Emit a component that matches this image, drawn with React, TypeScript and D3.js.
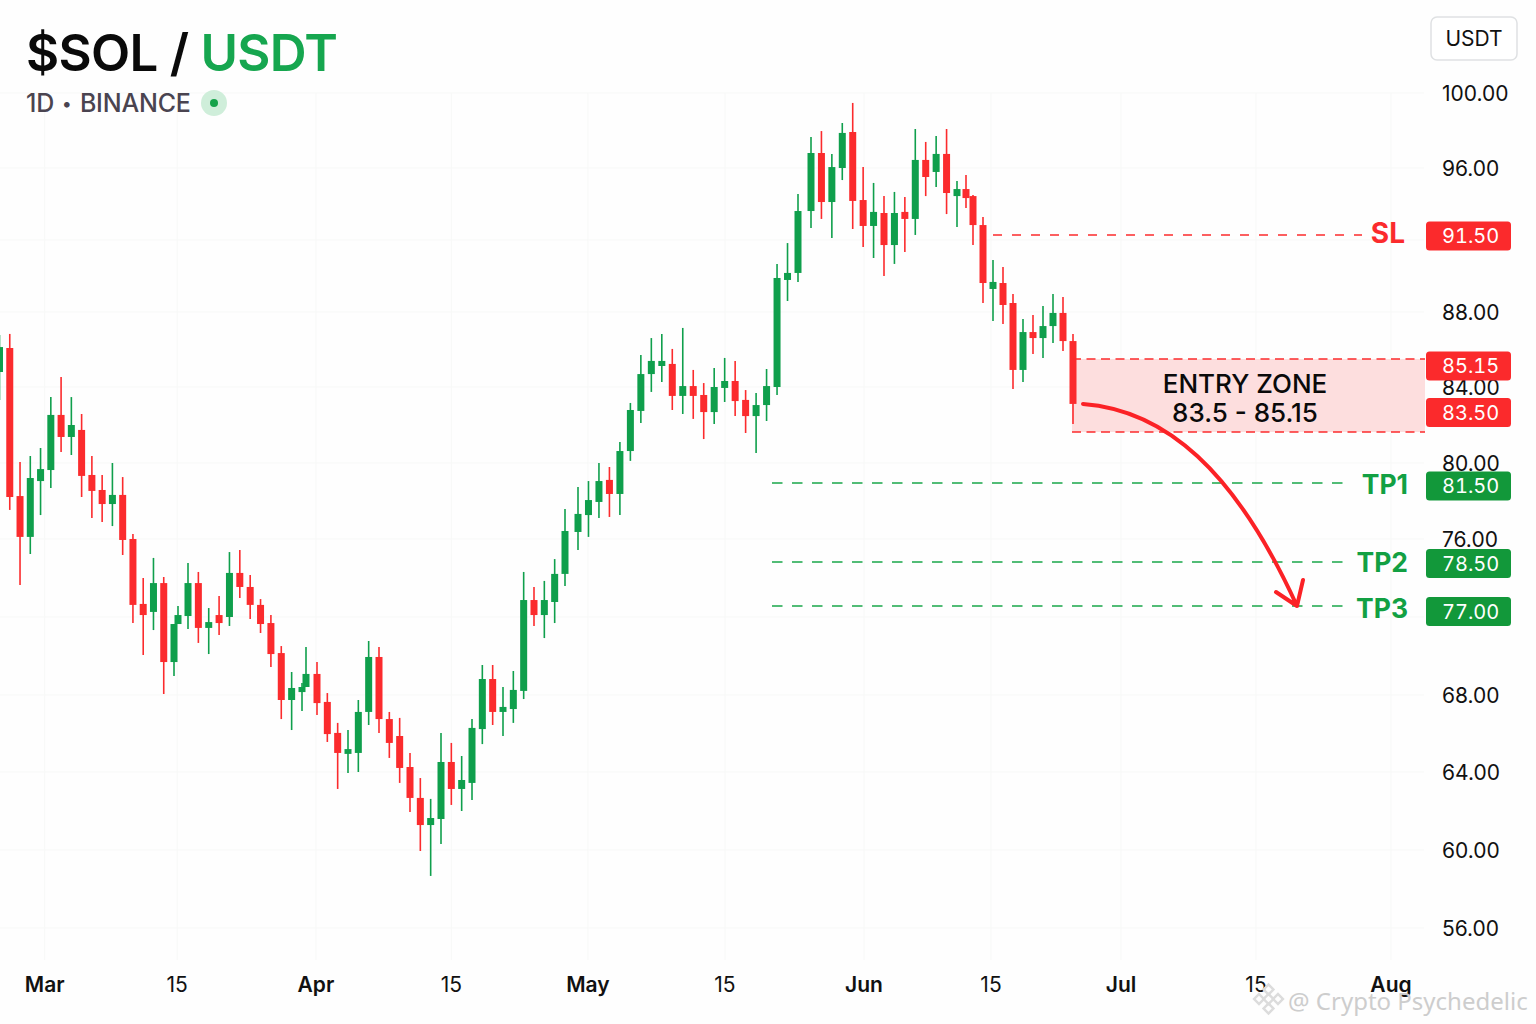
import * as d3 from "d3"

// candles (leftmost one is clipped by the frame)
const opens = [
  84.8, 86.08, 78.26, 76.11, 79.05, 79.63, 82.53, 81.37, 81.74, 79.37, 78.58, 77.84, 78.32, 76.0, 72.67, 72.26, 73.74, 69.69,
  71.64, 72.05, 73.74, 71.44, 72.1, 72.0, 74.26, 73.54, 72.62, 71.69, 70.15, 67.74, 68.15, 68.41, 69.08, 67.64, 66.03, 64.94,
  64.99, 67.12, 69.95, 66.75, 65.87, 64.26, 62.67, 61.28, 61.59, 64.52, 63.13, 63.44, 66.23, 68.82, 67.12, 67.27, 68.21, 72.87,
  72.1, 72.77, 74.21, 76.37, 77.26, 77.95, 79.11, 78.37, 80.63, 82.74, 84.69, 85.12, 85.23, 83.53, 84.05, 83.58, 82.68, 83.95,
  84.32, 83.32, 82.47, 83.05, 84.0, 89.78, 90.17, 93.61, 96.8, 94.11, 96.0, 97.92, 94.22, 92.78, 93.5, 91.72, 93.56, 93.17,
  96.43, 95.78, 96.75, 94.44, 94.83, 94.44, 92.83, 89.28, 89.61, 88.5, 84.91, 86.93, 86.61, 87.25, 87.95, 86.45,
]
const closes = [
  86.13, 78.21, 76.11, 79.21, 79.68, 82.53, 81.37, 82.0, 79.32, 78.53, 77.84, 78.32, 75.95, 72.62, 72.1, 73.74, 69.69, 71.64,
  72.1, 73.74, 71.44, 71.74, 71.69, 74.26, 73.54, 72.62, 71.64, 70.1, 67.74, 68.36, 68.41, 69.08, 67.58, 65.97, 64.99, 65.19,
  67.12, 69.95, 66.75, 65.51, 64.21, 62.67, 61.28, 61.64, 64.52, 63.13, 63.59, 66.29, 68.82, 67.12, 67.38, 68.26, 72.87, 72.1,
  72.87, 74.21, 76.42, 77.32, 78.05, 79.05, 78.37, 80.63, 82.79, 84.69, 85.39, 85.39, 83.53, 84.05, 83.53, 82.68, 84.0, 84.32,
  83.26, 82.47, 83.05, 84.05, 89.89, 90.17, 93.61, 96.8, 94.11, 96.05, 97.87, 94.17, 92.78, 93.56, 91.72, 93.5, 93.17, 96.43,
  95.5, 96.75, 94.61, 94.83, 94.33, 92.83, 89.61, 89.67, 88.39, 84.91, 86.93, 86.61, 87.25, 87.95, 86.45, 83.11,
]
const highs = [
  86.77, 86.83, 80.05, 80.37, 80.79, 83.47, 84.53, 83.47, 82.58, 80.37, 79.37, 80.0, 79.26, 76.26, 74.0, 75.03, 74.05, 71.64,
  72.56, 74.77, 74.31, 72.46, 73.08, 75.33, 75.44, 74.15, 72.92, 72.1, 70.51, 69.18, 68.62, 70.46, 69.69, 68.1, 66.55, 66.18,
  67.74, 70.77, 70.46, 67.12, 66.81, 64.99, 63.69, 62.62, 66.03, 65.51, 64.83, 66.75, 69.54, 69.54, 68.41, 69.23, 74.31, 73.54,
  73.85, 74.97, 77.58, 78.74, 79.05, 80.0, 79.79, 81.11, 83.16, 85.71, 86.61, 86.83, 86.03, 87.15, 84.91, 84.21, 85.01, 85.55,
  85.39, 83.84, 83.68, 84.96, 90.67, 91.83, 94.56, 97.65, 97.97, 96.75, 98.4, 99.47, 96.05, 95.17, 94.44, 94.67, 94.39, 98.08,
  97.39, 97.71, 98.08, 95.28, 95.61, 94.5, 93.28, 90.89, 90.5, 89.0, 87.63, 87.84, 88.33, 89.0, 88.83, 86.83,
]
const lows = [
  83.32, 77.53, 73.64, 75.23, 77.26, 78.68, 80.58, 80.42, 78.21, 77.11, 76.89, 76.68, 75.18, 71.69, 70.05, 71.33, 68.05, 68.97,
  71.64, 71.38, 70.67, 70.1, 71.08, 71.54, 72.97, 71.9, 71.18, 69.44, 66.75, 66.18, 67.17, 68.41, 66.96, 65.56, 63.13, 63.95,
  64.0, 66.44, 66.03, 64.73, 63.44, 61.95, 59.95, 58.67, 60.31, 62.31, 62.0, 62.56, 65.45, 66.44, 65.87, 66.55, 67.79, 71.54,
  70.92, 71.69, 73.59, 75.44, 76.11, 77.11, 77.16, 77.26, 80.11, 82.11, 83.74, 84.27, 82.79, 82.58, 82.32, 81.26, 82.05, 83.21,
  82.47, 81.58, 80.53, 82.21, 83.58, 88.61, 89.67, 92.67, 93.17, 92.11, 95.33, 92.61, 91.61, 91.0, 90.0, 90.67, 91.33, 92.28,
  94.44, 94.94, 93.44, 92.72, 93.78, 91.72, 88.5, 87.52, 87.36, 83.89, 84.27, 85.76, 85.55, 86.35, 85.92, 82.05,
]

const priceTicks = [100, 96, 92, 88, 84, 80, 76, 72, 68, 64, 60, 56]
// 92 and 72 have a grid line but no label in the picture
const priceLabels = [100, 96, 88, 84, 80, 76, 68, 64, 60, 56]
const monthTicks = ["Mar", "15", "Apr", "15", "May", "15", "Jun", "15", "Jul", "15", "Aug"]
const tickSlots = [4.4, 17.8, 31.9, 45, 57.95, 71.03, 84.08, 96.8, 109.8, 123.3, 136.8]

const levelValues = [91.5, 85.15, 83.5, 81.5, 78.5, 77]
const levelColors = ["red", "red", "red", "green", "green", "green"]
const tpNames = ["TP1", "TP2", "TP3"]
const tpValues = [81.5, 78.5, 77]

const RED = "#fb2b2d"
const GREEN = "#0f9f4c"
const TAG_GREEN = "#12983a"

// the price axis of the picture is not quite even, so the scales run through its ticks
const y = d3
  .scaleLinear()
  .domain(priceTicks)
  .range([93, 168, 240, 312, 387, 463, 539, 617, 695, 772, 850, 928])

// the drawn levels do not sit on the price axis, they get their own scale
const levelY = d3.scaleLinear().domain(levelValues).range([235, 359, 432, 483, 562, 606])

// candle slots, with the few uneven gaps of the picture
const x = d3
  .scaleLinear()
  .domain([0, 17, 18, 19, 30, 31, 32, 56, 57, 78, 79, 93, 94, 95, 96, 105])
  .range([-0.5, 174, 178, 188, 302, 306, 317, 565, 578, 798, 811, 957, 966, 973, 983, 1073])

const tagOffsets = [1, 7, -19.5, 3, 1.5, 5.5]
const font = "Inter, 'Liberation Sans', sans-serif"

function arrowPath() {
  const p = d3.path()
  const endX = x(127.4)
  const endY = levelY(77)
  p.moveTo(x(106), y(83.11))
  p.bezierCurveTo(x(114.2), y(82.79), x(121.2), y(79.63), endX, endY)
  p.moveTo(endX - 21, endY - 14)
  p.lineTo(endX, endY)
  p.lineTo(endX + 6, endY - 26)
  return p.toString()
}

export default function App() {
  const slots = d3.range(opens.length)
  return (
    <svg
      width={1536}
      height={1024}
      viewBox="0 0 1536 1024"
      style={{ position: "fixed", left: 0, top: 0, background: "#fefefe", fontFamily: font }}
    >
      {/* grid */}
      <g stroke="#f7f8f7" strokeWidth={1}>
        {priceTicks.map((t) => (
          <line key={t} x1={0} x2={1424} y1={y(t)} y2={y(t)} />
        ))}
        {tickSlots.map((s) => (
          <line key={s} x1={x(s)} x2={x(s)} y1={93} y2={960} />
        ))}
      </g>

      {/* title */}
      <text x={26} y={71} fontSize={51} fontWeight={600} fill="#0a0a0a" letterSpacing={-0.7}>
        $SOL / <tspan fill="#16a64f">USDT</tspan>
      </text>
      <text x={26} y={112} fontSize={25} fontWeight={500} fill="#4a4450" letterSpacing={-0.2}>
        1D{" "}
        <tspan fontSize={18} dx={1.5} dy={-2}>
          •
        </tspan>
        <tspan dx={2} dy={2}>
          {" "}
          BINANCE
        </tspan>
      </text>
      <circle cx={214} cy={103} r={13} fill="#cfeeda" />
      <circle cx={214} cy={103} r={4} fill="#16a34a" />

      {/* entry zone */}
      <rect
        x={1072}
        width={353}
        y={levelY(85.15)}
        height={levelY(83.5) - levelY(85.15)}
        fill="#fddede"
      />

      {/* candles */}
      {slots.map((i) => {
        const up = closes[i] >= opens[i]
        const color = up ? GREEN : RED
        const top = y(Math.max(opens[i], closes[i]))
        const bottom = y(Math.min(opens[i], closes[i]))
        return (
          <g key={i}>
            <line x1={x(i)} x2={x(i)} y1={y(highs[i])} y2={y(lows[i])} stroke={color} strokeWidth={1.6} />
            <rect x={x(i) - 3.5} width={7} y={top} height={bottom - top} fill={color} />
          </g>
        )
      })}

      {/* price axis */}
      <g fontSize={21} fill="#111" dominantBaseline="central">
        {priceLabels.map((t) => (
          <text key={t} x={1442} y={y(t)}>
            {d3.format(".2f")(t)}
          </text>
        ))}
      </g>

      {/* time axis */}
      <g fontSize={21} fill="#111" textAnchor="middle" dominantBaseline="central">
        {monthTicks.map((m, i) => (
          <text key={i} x={x(tickSlots[i])} y={984.5} fontWeight={m === "15" ? 400 : 600}>
            {m}
          </text>
        ))}
      </g>

      {/* levels */}
      <line
        x1={993}
        x2={1362}
        y1={levelY(91.5)}
        y2={levelY(91.5)}
        stroke={RED}
        strokeWidth={1.6}
        strokeDasharray="9 10"
      />
      {[85.15, 83.5].map((v) => (
        <line
          key={v}
          x1={1072}
          x2={1425}
          y1={levelY(v)}
          y2={levelY(v)}
          stroke={RED}
          strokeWidth={1.4}
          strokeDasharray="9 5.5"
        />
      ))}
      {tpValues.map((v) => (
        <line
          key={v}
          x1={772}
          x2={1346}
          y1={levelY(v)}
          y2={levelY(v)}
          stroke="#1aa64a"
          strokeWidth={1.5}
          strokeDasharray="10.5 9.5"
        />
      ))}

      <text x={1245} y={383} fontSize={26} fontWeight={500} fill="#0a0a0a" textAnchor="middle" dominantBaseline="central">
        ENTRY ZONE
      </text>
      <text x={1245} y={412} fontSize={26} fontWeight={500} fill="#0a0a0a" textAnchor="middle" dominantBaseline="central">
        83.5 - 85.15
      </text>

      <path d={arrowPath()} fill="none" stroke="#fb2226" strokeWidth={4} strokeLinecap="round" strokeLinejoin="round" />

      {/* level names and tags */}
      <text x={1405} y={233} fontSize={28} fontWeight={700} fill={RED} textAnchor="end" dominantBaseline="central">
        SL
      </text>
      {tpNames.map((name, i) => (
        <text
          key={name}
          x={1408}
          y={levelY(tpValues[i]) + [1, 0, 2][i]}
          fontSize={26.5}
          fontWeight={700}
          fill="#12a043"
          textAnchor="end"
          dominantBaseline="central"
        >
          {name}
        </text>
      ))}
      {levelValues.map((v, i) => {
        const cy = levelY(v) + tagOffsets[i]
        return (
          <g key={v}>
            <rect
              x={1426}
              width={85}
              y={cy - 14.5}
              height={29}
              rx={3.5}
              fill={levelColors[i] === "red" ? "#fb2a2c" : TAG_GREEN}
            />
            <text x={1442} y={cy} fontSize={20} fill="#fff" dominantBaseline="central" style={{ fontVariantNumeric: "tabular-nums" }}>
              {d3.format(".2f")(v)}
            </text>
          </g>
        )
      })}

      {/* quote button */}
      <rect x={1431} y={17} width={86} height={43} rx={6} fill="#fff" stroke="#dfe1e3" strokeWidth={1.5} />
      <text x={1474} y={38.5} fontSize={21} fill="#111" textAnchor="middle" dominantBaseline="central">
        USDT
      </text>

      {/* watermark */}
      <g fill="none" stroke="#dcdcdc" strokeWidth={2.4} transform="translate(1268.5 999)">
        {[
          [0, 0, 3.5],
          [0, -9.5, 3.5],
          [0, 9.5, 3.5],
          [-9.5, 0, 3.5],
          [9.5, 0, 3.5],
        ].map(([dx, dy, r], i) => (
          <rect key={i} x={dx - r} y={dy - r} width={r * 2} height={r * 2} transform={`rotate(45 ${dx} ${dy})`} />
        ))}
      </g>
      <text x={1288} y={1000} fontSize={24} fill="#cdcdcd" fontFamily="'Noto Sans', sans-serif" dominantBaseline="central">
        @ Crypto Psychedelic
      </text>
    </svg>
  )
}
